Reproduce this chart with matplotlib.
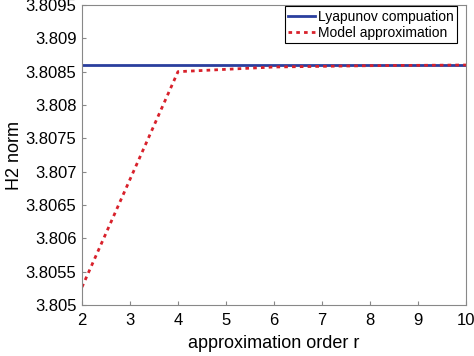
import numpy as np
import matplotlib
matplotlib.use('Agg')
import matplotlib.pyplot as plt

plt.rcParams['font.family'] = ['Liberation Sans', 'DejaVu Sans']

# data
order = [2, 4, 6, 8, 10]
lyapunov = [3.80860, 3.80860, 3.80860, 3.80860, 3.80860]
model = [3.80527, 3.80850, 3.80857, 3.80859, 3.80860]
yticks = [3.805, 3.8055, 3.806, 3.8065, 3.807, 3.8075, 3.808, 3.8085, 3.809, 3.8095]
yticklabels = ['3.805', '3.8055', '3.806', '3.8065', '3.807', '3.8075', '3.808', '3.8085', '3.809', '3.8095']

fig = plt.figure(figsize=(4.74, 3.56), dpi=100)
ax = fig.add_axes([0.173, 0.143, 0.81, 0.843])

ax.plot(order, lyapunov, color='#2a3f9e', linewidth=2, label='Lyapunov compuation')
ax.plot(order, model, color='#d8212b', linewidth=2, linestyle=(0, (1.3, 1.5)), label='Model approximation')

ax.set_xlim(2, 10)
ax.set_ylim(3.805, 3.8095)
ax.set_xticks(range(2, 11))
ax.set_yticks(yticks)
ax.set_yticklabels(yticklabels)
ax.tick_params(direction='in', length=3, labelsize=12, color='#888888')
ax.tick_params(axis='x', pad=6)
ax.tick_params(axis='y', pad=4)
for s in ax.spines.values():
    s.set_color('#888888')

ax.set_xlabel('approximation order r', fontsize=13, labelpad=5)
ax.set_ylabel('H2 norm', fontsize=13, labelpad=2)

leg = ax.legend(loc='upper right', bbox_to_anchor=(0.98, 1.0), fontsize=10,
                fancybox=False, framealpha=1, edgecolor='black',
                handlelength=1.9, handletextpad=0.2, borderpad=0.25,
                labelspacing=0.15, borderaxespad=0.1)
leg.get_frame().set_linewidth(0.8)

plt.savefig('out.png', dpi=100)
